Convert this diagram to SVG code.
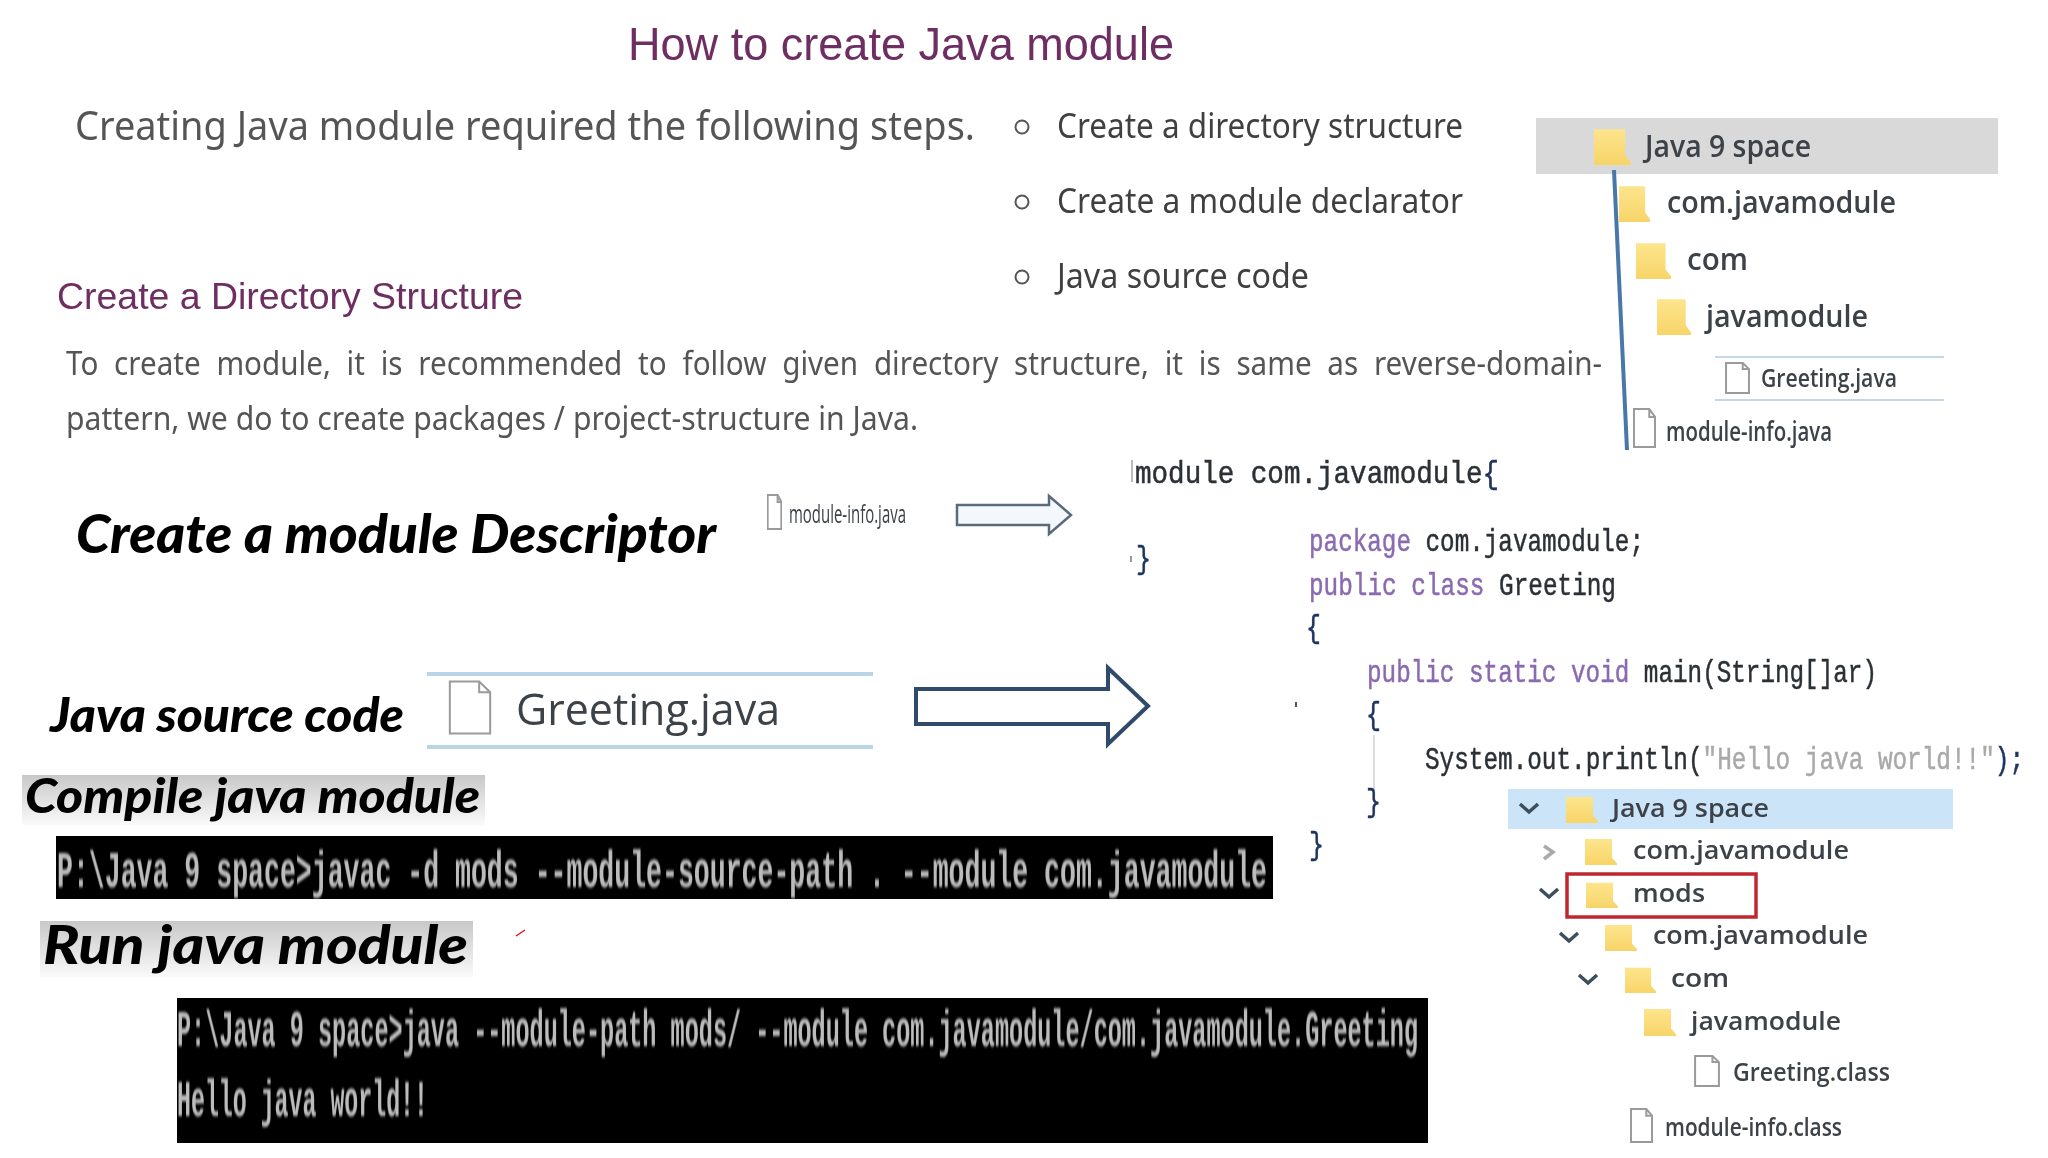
<svg xmlns="http://www.w3.org/2000/svg" width="2048" height="1158" viewBox="0 0 2048 1158">
<defs>
<style>
text{white-space:pre}
.title{font-family:"Liberation Sans",Arial,sans-serif;fill:#6e2f62;filter:url(#soft)}
.body{font-family:"Noto Sans","Open Sans",sans-serif;fill:#555;filter:url(#soft)}
.head{font-family:Lato,"Open Sans",sans-serif;font-weight:900;font-style:italic;fill:#050505;filter:url(#soft)}
.term{font-family:"Liberation Mono",monospace;font-size:27px;font-weight:700;fill:#bcbcbc}
.code{font-family:"Liberation Mono",monospace;font-size:25px;fill:#2b3036;stroke:#2b3036;stroke-width:.4}
.kw{fill:#8a6bb0;stroke:#8a6bb0}
.str{fill:#a9a9a9;stroke:#a9a9a9}
.br{fill:#1f3560;stroke:#1f3560}
.tree{font-family:"Open Sans","Noto Sans",sans-serif;font-weight:600;fill:#3c4248}
.soft{filter:url(#soft)}
.fic{fill:#fff;stroke:#9a9a9a;stroke-width:2}
.bul{fill:none;stroke:#555;stroke-width:2}
.chev{fill:none;stroke:#3d4f5f;stroke-width:3.5}
</style>
<filter id="soft" x="-5%" y="-20%" width="110%" height="140%"><feGaussianBlur stdDeviation="0.7"/></filter>
<linearGradient id="fold" x1="0" y1="0" x2="0" y2="1"><stop offset="0" stop-color="#fde58d"/><stop offset="1" stop-color="#f7d468"/></linearGradient>
<linearGradient id="hd" x1="0" y1="0" x2="0" y2="1"><stop offset="0" stop-color="#c8c8c8"/><stop offset="1" stop-color="#fafafa"/></linearGradient>
<symbol id="folder" viewBox="0 0 32 30" preserveAspectRatio="none"><path d="M0 1H27V22L32 28V30H0Z" fill="url(#fold)"/></symbol>
<symbol id="file" viewBox="0 0 24 36" preserveAspectRatio="none"><path class="fic" d="M1 1H17L23 8V35H1Z M17 1V8H23" vector-effect="non-scaling-stroke"/></symbol>
</defs>
<rect width="2048" height="1158" fill="#fff"/>

<g id="title"><text class="title" x="628" y="60" font-size="46" textLength="546" lengthAdjust="spacingAndGlyphs">How to create Java module</text></g>

<g id="intro">
<text class="body" x="75" y="140" font-size="40" textLength="900" lengthAdjust="spacingAndGlyphs">Creating Java module required the following steps.</text>
</g>

<g id="steps">
<circle class="bul" cx="1022" cy="127" r="6.5"/><circle class="bul" cx="1022" cy="202" r="6.5"/><circle class="bul" cx="1022" cy="277" r="6.5"/>
<text class="body" style="fill:#404040" x="1057" y="138" font-size="34" textLength="406" lengthAdjust="spacingAndGlyphs">Create a directory structure</text>
<text class="body" style="fill:#404040" x="1057" y="213" font-size="34" textLength="406" lengthAdjust="spacingAndGlyphs">Create a module declarator</text>
<text class="body" style="fill:#404040" x="1057" y="288" font-size="34" textLength="252" lengthAdjust="spacingAndGlyphs">Java source code</text>
</g>

<g id="directory-structure">
<text class="title" x="57" y="309" font-size="37" textLength="466" lengthAdjust="spacingAndGlyphs">Create a Directory Structure</text>
<text class="body" x="66" y="375" font-size="33" word-spacing="9" textLength="1536" lengthAdjust="spacingAndGlyphs">To create module, it is recommended to follow given directory structure, it is same as reverse-domain-</text>
<text class="body" x="66" y="430" font-size="33" textLength="852" lengthAdjust="spacingAndGlyphs">pattern, we do to create packages / project-structure in Java.</text>
</g>

<g id="tree-top" class="soft">
<rect x="1536" y="118" width="462" height="56" fill="#d9d9d9"/>
<use href="#folder" x="1594" y="128" width="37" height="37"/>
<text class="tree" x="1645" y="157" font-size="30" textLength="166" lengthAdjust="spacingAndGlyphs">Java 9 space</text>
<use href="#folder" x="1619" y="185" width="31" height="37"/>
<text class="tree" x="1667" y="213" font-size="30" textLength="229" lengthAdjust="spacingAndGlyphs">com.javamodule</text>
<use href="#folder" x="1636" y="242" width="35" height="37"/>
<text class="tree" x="1687" y="270" font-size="30" textLength="61" lengthAdjust="spacingAndGlyphs">com</text>
<use href="#folder" x="1657" y="298" width="34" height="37"/>
<text class="tree" x="1706" y="327" font-size="30" textLength="162" lengthAdjust="spacingAndGlyphs">javamodule</text>
<path d="M1715 357H1944M1715 400H1944" stroke="#c5d6e6" stroke-width="2" fill="none"/>
<use href="#file" x="1725" y="362" width="25" height="32"/>
<text class="tree" x="1761" y="387" font-size="26" textLength="136" lengthAdjust="spacingAndGlyphs">Greeting.java</text>
<path d="M1614 170L1627 450" stroke="#4a78a8" stroke-width="4" fill="none"/>
<use href="#file" x="1633" y="408" width="23" height="40"/>
<text class="tree" x="1666" y="441" font-size="27" textLength="166" lengthAdjust="spacingAndGlyphs">module-info.java</text>
</g>

<g id="module-descriptor">
<text class="head" x="76" y="553" font-size="54" textLength="640" lengthAdjust="spacingAndGlyphs">Create a module Descriptor</text>
<use href="#file" x="767" y="494" width="15" height="36" class="soft"/>
<text class="tree soft" style="font-weight:400" x="789" y="523" font-size="25" textLength="117" lengthAdjust="spacingAndGlyphs">module-info.java</text>
</g>

<g id="module-code" class="soft">
<path d="M1132 460V482" stroke="#bbb" stroke-width="2"/>
<text class="code" transform="translate(1135,483) scale(1,1.28)" textLength="364" lengthAdjust="spacingAndGlyphs">module com.javamodule<tspan class="br">{</tspan></text>
<path d="M1131 556V562" stroke="#999" stroke-width="2"/>
<text class="code br" transform="translate(1136,568) scale(1,1.28)" textLength="15" lengthAdjust="spacingAndGlyphs">}</text>
</g>

<g id="java-source">
<text class="head" x="50" y="732" font-size="47" textLength="354" lengthAdjust="spacingAndGlyphs">Java source code</text>
<path d="M427 674H873M427 747H873" stroke="#b9d5e6" stroke-width="4" fill="none"/>
<use href="#file" x="448" y="680" width="44" height="55"/>
<text class="tree" style="font-weight:500" x="516" y="725" font-size="44" textLength="264" lengthAdjust="spacingAndGlyphs">Greeting.java</text>
</g>

<g id="connectors">
<path d="M957 505H1049V496L1071 515L1049 534V525H957Z" fill="#f4f8fc" stroke="#5a6a7a" stroke-width="2.5"/>
<path d="M916 689H1108V668L1148 706L1108 744V724H916Z" fill="#fff" stroke="#2f4a6b" stroke-width="4"/>
</g>

<g id="greeting-code" class="soft">
<text class="code" transform="translate(1309,551) scale(1,1.28)" textLength="335" lengthAdjust="spacingAndGlyphs"><tspan class="kw">package</tspan> com.javamodule;</text>
<text class="code" transform="translate(1309,595) scale(1,1.28)" textLength="307" lengthAdjust="spacingAndGlyphs"><tspan class="kw">public class</tspan> Greeting</text>
<text class="code br" transform="translate(1306,637) scale(1,1.28)" textLength="15" lengthAdjust="spacingAndGlyphs">{</text>
<text class="code" transform="translate(1367,682) scale(1,1.28)" textLength="510" lengthAdjust="spacingAndGlyphs"><tspan class="kw">public static void</tspan> main(String[]ar)</text>
<text class="code br" transform="translate(1366,724) scale(1,1.28)" textLength="15" lengthAdjust="spacingAndGlyphs">{</text>
<path d="M1296 702V707" stroke="#555" stroke-width="2"/>
<path d="M1374 735V790" stroke="#ddd" stroke-width="2"/>
<text class="code" transform="translate(1425,769) scale(1,1.28)" textLength="599" lengthAdjust="spacingAndGlyphs">System.out.println(<tspan class="str">"Hello java world!!"</tspan><tspan class="br">);</tspan></text>
<text class="code br" transform="translate(1366,811) scale(1,1.28)" textLength="15" lengthAdjust="spacingAndGlyphs">}</text>
<text class="code br" transform="translate(1309,854) scale(1,1.28)" textLength="15" lengthAdjust="spacingAndGlyphs">}</text>
</g>

<g id="compile">
<rect x="22" y="775" width="463" height="50" fill="url(#hd)"/>
<text class="head" x="25" y="813" font-size="48" textLength="455" lengthAdjust="spacingAndGlyphs">Compile java module</text>
<rect x="56" y="836" width="1217" height="63" fill="#000"/>
<text class="term soft" transform="translate(57,887) scale(1,1.93)" textLength="1210" lengthAdjust="spacingAndGlyphs">P:\Java 9 space&gt;javac -d mods --module-source-path . --module com.javamodule</text>
</g>

<g id="run">
<rect x="40" y="921" width="433" height="56" fill="url(#hd)"/>
<text class="head" x="43" y="964" font-size="54" textLength="425" lengthAdjust="spacingAndGlyphs">Run java module</text>
<path d="M516 936L525 930" stroke="#e0161b" stroke-width="1.5" fill="none"/>
<rect x="177" y="998" width="1251" height="145" fill="#000"/>
<text class="term soft" transform="translate(177,1046) scale(1,1.93)" textLength="1241" lengthAdjust="spacingAndGlyphs">P:\Java 9 space&gt;java --module-path mods/ --module com.javamodule/com.javamodule.Greeting</text>
<text class="term soft" transform="translate(177,1116) scale(1,1.93)" textLength="251" lengthAdjust="spacingAndGlyphs">Hello java world!!</text>
</g>

<g id="tree-bottom" class="soft">
<rect x="1508" y="789" width="445" height="40" fill="#cbe4f8"/>
<path class="chev" d="M1520 804L1529 812L1538 804"/>
<use href="#folder" x="1566" y="796" width="32" height="27"/>
<text class="tree" x="1612" y="817" font-size="25" textLength="157" lengthAdjust="spacingAndGlyphs">Java 9 space</text>
<path class="chev" style="stroke:#aaa" d="M1544 846L1553 852L1544 859"/>
<use href="#folder" x="1585" y="838" width="32" height="27"/>
<text class="tree" x="1633" y="859" font-size="25" textLength="216" lengthAdjust="spacingAndGlyphs">com.javamodule</text>
<rect x="1567" y="874" width="189" height="43" fill="none" stroke="#c0282d" stroke-width="3.5"/>
<path class="chev" d="M1540 889L1549 897L1558 889"/>
<use href="#folder" x="1586" y="882" width="32" height="26"/>
<text class="tree" x="1633" y="902" font-size="25" textLength="72" lengthAdjust="spacingAndGlyphs">mods</text>
<path class="chev" d="M1560 933L1569 941L1578 933"/>
<use href="#folder" x="1605" y="924" width="32" height="27"/>
<text class="tree" x="1653" y="944" font-size="25" textLength="215" lengthAdjust="spacingAndGlyphs">com.javamodule</text>
<path class="chev" d="M1579 975L1588 983L1597 975"/>
<use href="#folder" x="1625" y="967" width="31" height="26"/>
<text class="tree" x="1671" y="987" font-size="25" textLength="58" lengthAdjust="spacingAndGlyphs">com</text>
<use href="#folder" x="1644" y="1008" width="32" height="28"/>
<text class="tree" x="1691" y="1030" font-size="25" textLength="150" lengthAdjust="spacingAndGlyphs">javamodule</text>
<use href="#file" x="1694" y="1055" width="26" height="32"/>
<text class="tree" x="1733" y="1081" font-size="25" textLength="157" lengthAdjust="spacingAndGlyphs">Greeting.class</text>
<use href="#file" x="1630" y="1108" width="23" height="35"/>
<text class="tree" x="1665" y="1136" font-size="25" textLength="177" lengthAdjust="spacingAndGlyphs">module-info.class</text>
</g>
</svg>
